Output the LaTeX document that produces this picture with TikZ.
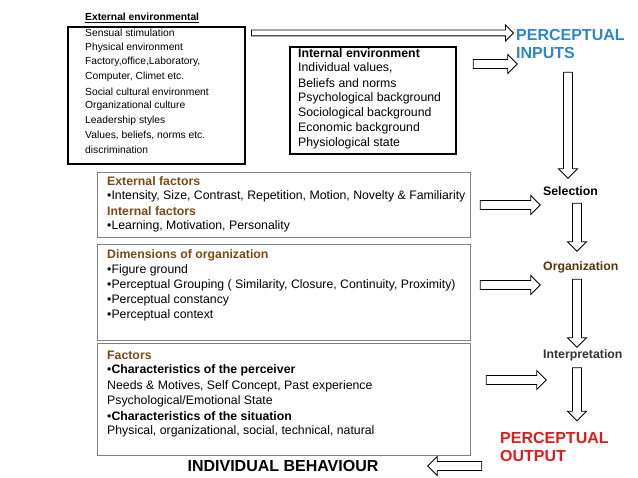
\documentclass[tikz,border=0pt]{standalone}
\usepackage{fontspec}
\setmainfont{Liberation Sans}
\usetikzlibrary{shapes.arrows}
\definecolor{brn}{HTML}{7A4A12}
\definecolor{pblue}{HTML}{2E86C8}
\definecolor{pred}{HTML}{E01B1B}
\tikzset{
 box/.style={draw,line width=0.6pt},
 bbox/.style={draw,line width=1.2pt},
 txt/.style={anchor=west,inner sep=0pt,font=\fontsize{12.3}{13}\selectfont},
 btxt/.style={anchor=west,inner sep=0pt,font=\bfseries\fontsize{12.3}{13}\selectfont},
 small/.style={anchor=west,inner sep=0pt,font=\fontsize{10.3}{11}\selectfont},
 harrow/.style={single arrow,draw,line width=0.8pt,inner sep=0pt,minimum width=19pt,single arrow head extend=5pt,text height=8pt,anchor=center},
 tharrow/.style={single arrow,draw,line width=0.8pt,inner sep=0pt,minimum width=14pt,single arrow head extend=5pt,text height=5pt,anchor=center},
 lab/.style={anchor=west,inner sep=0pt,font=\bfseries\fontsize{12.3}{13}\selectfont},
}
\begin{document}
\begin{tikzpicture}[x=1pt,y=-1pt]
\useasboundingbox (0,0) rectangle (638,478);
\clip (0,0) rectangle (638,478);
% box 1
\node[anchor=west,inner sep=0pt,font=\bfseries\fontsize{10.3}{11}\selectfont] (t1) at (85,18) {\underline{External environmental}};
\draw[bbox] (68,27) rectangle (245,164);
\foreach \t [count=\i] in {Sensual stimulation,Physical environment,{Factory,office,Laboratory,},{Computer, Climet etc.},Social cultural environment,Organizational culture,Leadership styles,{Values, beliefs, norms etc.},discrimination}
  \node[small] (e\i) at (85,{33+14.6*(\i-1)}) {\t};
% box 2
\draw[bbox] (290,47) rectangle (456,154);
\node[btxt] (i0) at (298,53) {Internal environment};
\foreach \t [count=\i] in {{Individual values,},Beliefs and norms,Psychological background,Sociological background,Economic background,Physiological state}
  \node[txt] (i\i) at (298,{53+15*\i}) {\t};
% arrows top
\node[tharrow,minimum height=262pt] (a1) at (381,33) {};
\node[harrow,minimum height=44pt] (a2) at (493,64) {};
\node[anchor=west,inner sep=0pt,text=pblue,font=\bfseries\fontsize{16}{18}\selectfont,align=left] (pin) at (516,44) {PERCEPTUAL\\INPUTS};
\node[harrow,minimum height=106pt,rotate=-90] (d1) at (568,123) {};
% box 3
\draw[box,draw=gray] (97,172) rectangle (470,237);
\node[btxt,text=brn] (f1) at (107,181) {External factors};
\node[txt] (f2) at (107,196) {•Intensity, Size, Contrast, Repetition, Motion, Novelty \& Familiarity};
\node[btxt,text=brn] (f3) at (107,211) {Internal factors};
\node[txt] (f4) at (107,226) {•Learning, Motivation, Personality};
% box 4
\draw[box,draw=gray] (97,244) rectangle (470,340);
\node[btxt,text=brn] (g1) at (107,255) {Dimensions of organization};
\node[txt] (g2) at (107,270) {•Figure ground};
\node[txt] (g3) at (107,285) {•Perceptual Grouping ( Similarity, Closure, Continuity, Proximity)};
\node[txt] (g4) at (107,300) {•Perceptual constancy};
\node[txt] (g5) at (107,315) {•Perceptual context};
% box 5
\draw[box,draw=gray] (97,343) rectangle (470,455);
\node[btxt,text=brn] (h1) at (107,355) {Factors};
\node[btxt] (h2) at (107,370) {\mdseries•\bfseries Characteristics of the perceiver};
\node[txt] (h3) at (107,386) {Needs \& Motives, Self Concept, Past experience};
\node[txt] (h4) at (107,401) {Psychological/Emotional State};
\node[btxt] (h5) at (107,416) {\mdseries•\bfseries Characteristics of the situation};
\node[txt] (h6) at (107,431) {Physical,  organizational, social, technical, natural};
% right column
\node[harrow,minimum height=60pt] (a3) at (508,205) {};
\node[harrow,minimum height=60pt] (a4) at (508,285) {};
\node[harrow,minimum height=60pt] (a5) at (514,380) {};
\node[lab] (sel) at (543,191) {Selection};
\node[lab,text=brn!70!black] (org) at (543,267) {Organization};
\node[lab,text=black!80] (int) at (543,355) {Interpretation};
\node[harrow,minimum height=48pt,rotate=-90] (d2) at (577,225) {};
\node[harrow,minimum height=68pt,rotate=-90] (d3) at (577,311) {};
\node[harrow,minimum height=53pt,rotate=-90] (d4) at (577,392) {};
\node[anchor=west,inner sep=0pt,text=pred,font=\bfseries\fontsize{16}{18}\selectfont,align=left] (pout) at (500,447) {PERCEPTUAL\\OUTPUT};
\node[inner sep=0pt,font=\bfseries\fontsize{16}{18}\selectfont] (ib) at (283,466) {INDIVIDUAL BEHAVIOUR};
\node[harrow,minimum height=54pt,rotate=180] (a6) at (457,466) {};
\end{tikzpicture}
\end{document}
